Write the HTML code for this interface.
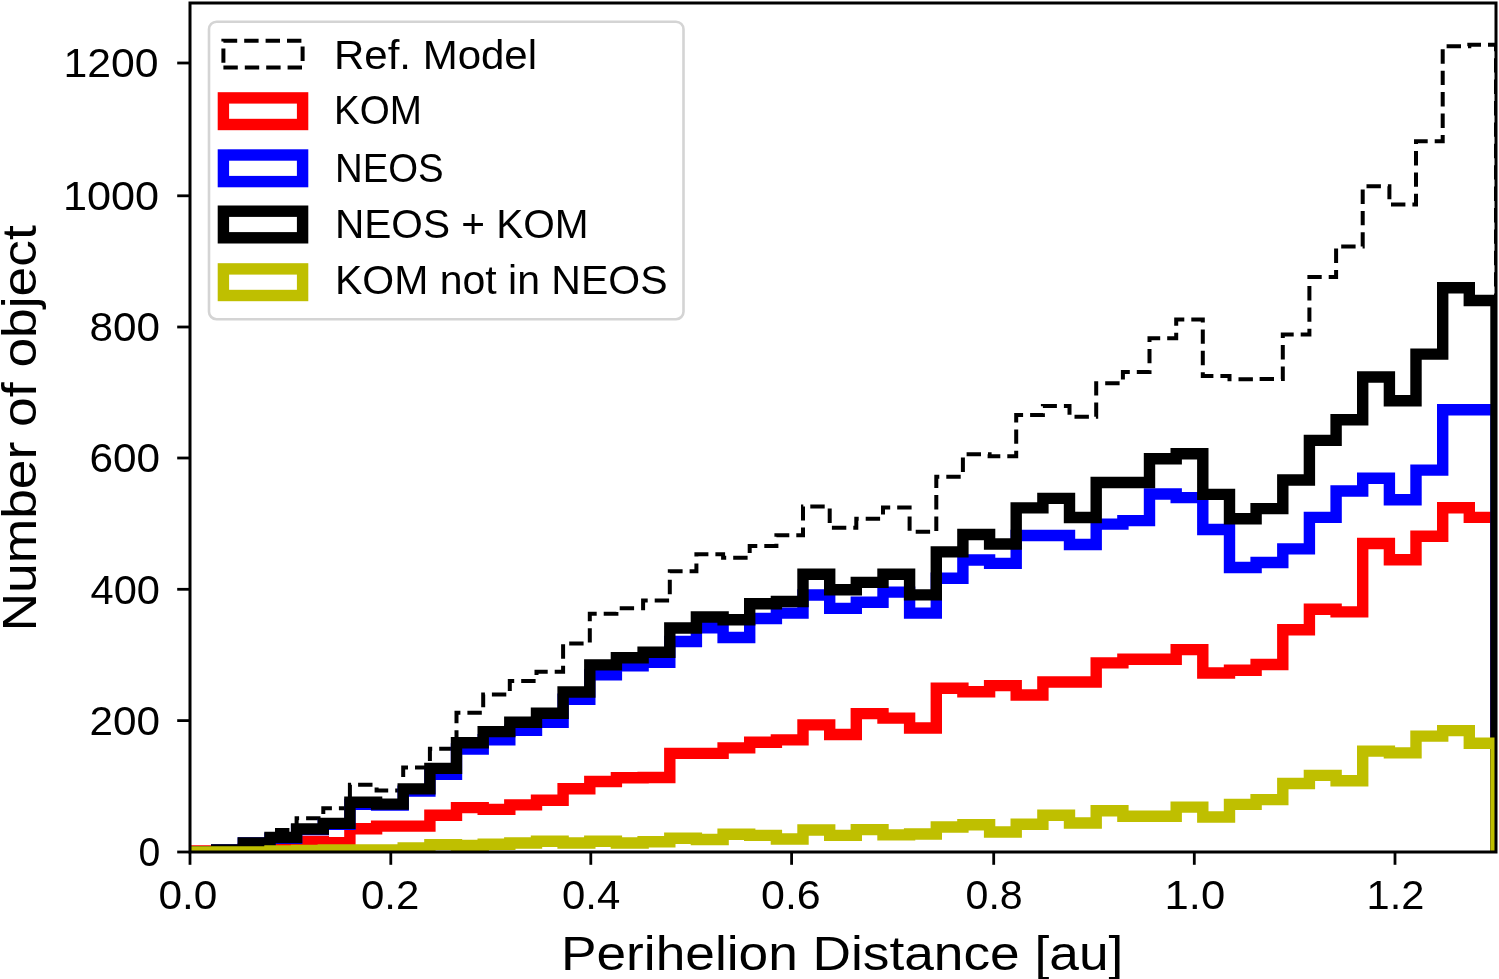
<!DOCTYPE html>
<html><head><meta charset="utf-8"><title>Perihelion distance histogram</title><style>html,body{margin:0;padding:0;background:#fff;overflow:hidden}svg{display:block;will-change:transform}text{font-family:"Liberation Sans",sans-serif;fill:#000}</style></head><body>
<svg width="1499" height="979" viewBox="0 0 1499 979">
<defs><clipPath id="ax"><rect x="190" y="3" width="1306" height="849"/></clipPath></defs>
<rect x="0" y="0" width="1499" height="979" fill="#fff"/>
<g clip-path="url(#ax)" fill="none" stroke-linejoin="miter" stroke-miterlimit="10" stroke-linecap="butt">
<path d="M190.0 852.0 L190.0 851.0 L216.7 851.0 L216.7 848.0 L243.3 848.0 L243.3 843.0 L270.0 843.0 L270.0 830.0 L296.6 830.0 L296.6 818.3 L323.3 818.3 L323.3 808.3 L349.9 808.3 L349.9 784.7 L376.6 784.7 L376.6 790.4 L403.2 790.4 L403.2 767.4 L429.9 767.4 L429.9 748.8 L456.5 748.8 L456.5 712.8 L483.2 712.8 L483.2 694.5 L509.8 694.5 L509.8 681.0 L536.5 681.0 L536.5 671.7 L563.1 671.7 L563.1 643.4 L589.8 643.4 L589.8 613.7 L616.4 613.7 L616.4 608.3 L643.1 608.3 L643.1 600.5 L669.8 600.5 L669.8 571.2 L696.4 571.2 L696.4 554.2 L723.1 554.2 L723.1 557.8 L749.7 557.8 L749.7 546.1 L776.4 546.1 L776.4 535.3 L803.0 535.3 L803.0 506.5 L829.7 506.5 L829.7 527.7 L856.3 527.7 L856.3 518.7 L883.0 518.7 L883.0 507.4 L909.6 507.4 L909.6 531.7 L936.3 531.7 L936.3 476.7 L962.9 476.7 L962.9 454.2 L989.6 454.2 L989.6 456.3 L1016.2 456.3 L1016.2 414.9 L1042.9 414.9 L1042.9 405.9 L1069.5 405.9 L1069.5 416.7 L1096.2 416.7 L1096.2 383.2 L1122.9 383.2 L1122.9 372.0 L1149.5 372.0 L1149.5 338.2 L1176.2 338.2 L1176.2 319.5 L1202.8 319.5 L1202.8 376.0 L1229.5 376.0 L1229.5 379.3 L1256.1 379.3 L1256.1 379.0 L1282.8 379.0 L1282.8 334.5 L1309.4 334.5 L1309.4 276.9 L1336.1 276.9 L1336.1 246.6 L1362.7 246.6 L1362.7 186.3 L1389.4 186.3 L1389.4 204.6 L1416.0 204.6 L1416.0 141.3 L1442.7 141.3 L1442.7 46.2 L1469.3 46.2 L1469.3 44.8 L1496.0 44.8 L1496.0 852.0" stroke="#000" stroke-width="4" stroke-dasharray="14.4 7.0"/>
<path d="M190.0 852.0 L190.0 851.0 L243.3 851.0 L243.3 849.0 L270.0 849.0 L270.0 847.0 L296.6 847.0 L296.6 841.4 L323.3 841.4 L323.3 842.7 L349.9 842.7 L349.9 828.8 L376.6 828.8 L376.6 826.1 L429.9 826.1 L429.9 815.2 L456.5 815.2 L456.5 807.6 L483.2 807.6 L483.2 809.4 L509.8 809.4 L509.8 804.9 L536.5 804.9 L536.5 800.3 L563.1 800.3 L563.1 788.7 L589.8 788.7 L589.8 781.5 L616.4 781.5 L616.4 777.8 L643.1 777.8 L643.1 777.5 L669.8 777.5 L669.8 753.4 L723.1 753.4 L723.1 747.9 L749.7 747.9 L749.7 742.2 L776.4 742.2 L776.4 739.9 L803.0 739.9 L803.0 724.9 L829.7 724.9 L829.7 734.5 L856.3 734.5 L856.3 713.6 L883.0 713.6 L883.0 718.1 L909.6 718.1 L909.6 728.0 L936.3 728.0 L936.3 688.3 L962.9 688.3 L962.9 691.7 L989.6 691.7 L989.6 685.6 L1016.2 685.6 L1016.2 695.0 L1042.9 695.0 L1042.9 682.0 L1096.2 682.0 L1096.2 662.9 L1122.9 662.9 L1122.9 659.3 L1176.2 659.3 L1176.2 649.6 L1202.8 649.6 L1202.8 673.0 L1229.5 673.0 L1229.5 670.3 L1256.1 670.3 L1256.1 664.5 L1282.8 664.5 L1282.8 629.7 L1309.4 629.7 L1309.4 609.3 L1336.1 609.3 L1336.1 611.9 L1362.7 611.9 L1362.7 543.5 L1389.4 543.5 L1389.4 559.7 L1416.0 559.7 L1416.0 536.3 L1442.7 536.3 L1442.7 507.7 L1469.3 507.7 L1469.3 517.4 L1496.0 517.4 L1496.0 852.0" stroke="#ff0000" stroke-width="11.4"/>
<path d="M190.0 852.0 L216.7 852.0 L216.7 850.0 L243.3 850.0 L243.3 843.0 L270.0 843.0 L270.0 838.4 L296.6 838.4 L296.6 829.6 L323.3 829.6 L323.3 824.4 L349.9 824.4 L349.9 804.4 L376.6 804.4 L376.6 805.1 L403.2 805.1 L403.2 791.1 L429.9 791.1 L429.9 774.4 L456.5 774.4 L456.5 749.0 L483.2 749.0 L483.2 739.8 L509.8 739.8 L509.8 730.2 L536.5 730.2 L536.5 722.2 L563.1 722.2 L563.1 699.3 L589.8 699.3 L589.8 674.8 L616.4 674.8 L616.4 665.9 L643.1 665.9 L643.1 662.2 L669.8 662.2 L669.8 641.5 L696.4 641.5 L696.4 627.7 L723.1 627.7 L723.1 637.5 L749.7 637.5 L749.7 618.5 L776.4 618.5 L776.4 613.1 L803.0 613.1 L803.0 595.0 L829.7 595.0 L829.7 608.4 L856.3 608.4 L856.3 602.3 L883.0 602.3 L883.0 592.1 L909.6 592.1 L909.6 613.1 L936.3 613.1 L936.3 578.2 L962.9 578.2 L962.9 560.0 L989.6 560.0 L989.6 563.4 L1016.2 563.4 L1016.2 535.5 L1069.5 535.5 L1069.5 544.5 L1096.2 544.5 L1096.2 524.1 L1122.9 524.1 L1122.9 520.6 L1149.5 520.6 L1149.5 494.0 L1176.2 494.0 L1176.2 497.6 L1202.8 497.6 L1202.8 529.5 L1229.5 529.5 L1229.5 567.5 L1256.1 567.5 L1256.1 562.5 L1282.8 562.5 L1282.8 548.9 L1309.4 548.9 L1309.4 517.4 L1336.1 517.4 L1336.1 491.0 L1362.7 491.0 L1362.7 478.2 L1389.4 478.2 L1389.4 499.8 L1416.0 499.8 L1416.0 470.1 L1442.7 470.1 L1442.7 409.7 L1496.0 409.7 L1496.0 852.0" stroke="#0000ff" stroke-width="11.4"/>
<path d="M190.0 852.0 L216.7 852.0 L216.7 849.9 L243.3 849.9 L243.3 842.9 L270.0 842.9 L270.0 837.5 L296.6 837.5 L296.6 829.0 L323.3 829.0 L323.3 823.4 L349.9 823.4 L349.9 802.2 L376.6 802.2 L376.6 804.1 L403.2 804.1 L403.2 788.9 L429.9 788.9 L429.9 768.4 L456.5 768.4 L456.5 742.8 L483.2 742.8 L483.2 731.6 L509.8 731.6 L509.8 722.2 L536.5 722.2 L536.5 713.3 L563.1 713.3 L563.1 692.0 L589.8 692.0 L589.8 664.9 L616.4 664.9 L616.4 657.7 L643.1 657.7 L643.1 652.3 L669.8 652.3 L669.8 628.0 L696.4 628.0 L696.4 617.0 L723.1 617.0 L723.1 619.7 L749.7 619.7 L749.7 603.7 L776.4 603.7 L776.4 601.5 L803.0 601.5 L803.0 574.2 L829.7 574.2 L829.7 589.7 L856.3 589.7 L856.3 582.4 L883.0 582.4 L883.0 574.2 L909.6 574.2 L909.6 594.9 L936.3 594.9 L936.3 551.9 L962.9 551.9 L962.9 534.5 L989.6 534.5 L989.6 544.0 L1016.2 544.0 L1016.2 507.9 L1042.9 507.9 L1042.9 498.4 L1069.5 498.4 L1069.5 517.5 L1096.2 517.5 L1096.2 482.5 L1149.5 482.5 L1149.5 458.8 L1176.2 458.8 L1176.2 453.7 L1202.8 453.7 L1202.8 494.4 L1229.5 494.4 L1229.5 518.7 L1256.1 518.7 L1256.1 508.6 L1282.8 508.6 L1282.8 480.0 L1309.4 480.0 L1309.4 440.4 L1336.1 440.4 L1336.1 419.7 L1362.7 419.7 L1362.7 377.0 L1389.4 377.0 L1389.4 400.7 L1416.0 400.7 L1416.0 354.1 L1442.7 354.1 L1442.7 287.7 L1469.3 287.7 L1469.3 300.5 L1496.0 300.5 L1496.0 852.0" stroke="#000000" stroke-width="11.4"/>
<path d="M190.0 852.0 L270.0 852.0 L270.0 851.0 L296.6 851.0 L296.6 850.5 L323.3 850.5 L323.3 850.0 L403.2 850.0 L403.2 848.0 L429.9 848.0 L429.9 844.6 L456.5 844.6 L456.5 845.4 L483.2 845.4 L483.2 844.2 L509.8 844.2 L509.8 843.0 L536.5 843.0 L536.5 841.2 L563.1 841.2 L563.1 843.0 L589.8 843.0 L589.8 841.2 L616.4 841.2 L616.4 843.0 L643.1 843.0 L643.1 841.8 L669.8 841.8 L669.8 838.2 L696.4 838.2 L696.4 839.5 L723.1 839.5 L723.1 834.2 L749.7 834.2 L749.7 835.4 L776.4 835.4 L776.4 839.0 L803.0 839.0 L803.0 830.0 L829.7 830.0 L829.7 835.4 L856.3 835.4 L856.3 829.6 L883.0 829.6 L883.0 834.9 L909.6 834.9 L909.6 834.0 L936.3 834.0 L936.3 827.0 L962.9 827.0 L962.9 824.7 L989.6 824.7 L989.6 832.0 L1016.2 832.0 L1016.2 824.2 L1042.9 824.2 L1042.9 815.2 L1069.5 815.2 L1069.5 823.0 L1096.2 823.0 L1096.2 810.8 L1122.9 810.8 L1122.9 816.2 L1176.2 816.2 L1176.2 807.1 L1202.8 807.1 L1202.8 817.0 L1229.5 817.0 L1229.5 804.4 L1256.1 804.4 L1256.1 799.6 L1282.8 799.6 L1282.8 783.5 L1309.4 783.5 L1309.4 775.4 L1336.1 775.4 L1336.1 780.8 L1362.7 780.8 L1362.7 751.1 L1389.4 751.1 L1389.4 752.9 L1416.0 752.9 L1416.0 736.1 L1442.7 736.1 L1442.7 730.6 L1469.3 730.6 L1469.3 743.3 L1496.0 743.3 L1496.0 852.0" stroke="#bfbf00" stroke-width="11.4"/>
</g>
<g stroke="#000" stroke-width="3" fill="none" stroke-linecap="square">
<path d="M190 3 L1496 3 L1496 852 L190 852 Z" stroke-linejoin="miter"/>
</g>
<g stroke="#000" stroke-width="2.8">
<line x1="177.2" y1="852.0" x2="190" y2="852.0"/>
<line x1="177.2" y1="720.6" x2="190" y2="720.6"/>
<line x1="177.2" y1="589.3" x2="190" y2="589.3"/>
<line x1="177.2" y1="458.0" x2="190" y2="458.0"/>
<line x1="177.2" y1="327.0" x2="190" y2="327.0"/>
<line x1="177.2" y1="195.8" x2="190" y2="195.8"/>
<line x1="177.2" y1="63.0" x2="190" y2="63.0"/>
<line x1="190.0" y1="852" x2="190.0" y2="864.8"/>
<line x1="390.8" y1="852" x2="390.8" y2="864.8"/>
<line x1="590.8" y1="852" x2="590.8" y2="864.8"/>
<line x1="791.6" y1="852" x2="791.6" y2="864.8"/>
<line x1="993.7" y1="852" x2="993.7" y2="864.8"/>
<line x1="1194.3" y1="852" x2="1194.3" y2="864.8"/>
<line x1="1395.0" y1="852" x2="1395.0" y2="864.8"/>
</g>
<text x="63.50" y="77.30" font-size="40.5" textLength="95.14" lengthAdjust="spacingAndGlyphs">1200</text>
<text x="63.00" y="210.10" font-size="40.5" textLength="96.15" lengthAdjust="spacingAndGlyphs">1000</text>
<text x="89.50" y="341.30" font-size="40.5" textLength="70.51" lengthAdjust="spacingAndGlyphs">800</text>
<text x="89.50" y="472.30" font-size="40.5" textLength="70.54" lengthAdjust="spacingAndGlyphs">600</text>
<text x="90.50" y="603.60" font-size="40.5" textLength="69.44" lengthAdjust="spacingAndGlyphs">400</text>
<text x="89.50" y="735.10" font-size="40.5" textLength="70.54" lengthAdjust="spacingAndGlyphs">200</text>
<text x="138.50" y="866.40" font-size="40.5" textLength="21.80" lengthAdjust="spacingAndGlyphs">0</text>
<text x="158.50" y="909.40" font-size="40.5" textLength="58.87" lengthAdjust="spacingAndGlyphs">0.0</text>
<text x="361.00" y="909.40" font-size="40.5" textLength="58.33" lengthAdjust="spacingAndGlyphs">0.2</text>
<text x="562.00" y="909.40" font-size="40.5" textLength="58.25" lengthAdjust="spacingAndGlyphs">0.4</text>
<text x="761.00" y="909.40" font-size="40.5" textLength="59.71" lengthAdjust="spacingAndGlyphs">0.6</text>
<text x="965.50" y="909.40" font-size="40.5" textLength="57.19" lengthAdjust="spacingAndGlyphs">0.8</text>
<text x="1164.50" y="909.40" font-size="40.5" textLength="60.66" lengthAdjust="spacingAndGlyphs">1.0</text>
<text x="1366.50" y="909.40" font-size="40.5" textLength="57.84" lengthAdjust="spacingAndGlyphs">1.2</text>
<text x="561.00" y="969.60" font-size="48" textLength="562.31" lengthAdjust="spacingAndGlyphs">Perihelion Distance [au]</text>
<text transform="translate(36.00 631.50) rotate(-90)" font-size="48" textLength="406.31" lengthAdjust="spacingAndGlyphs">Number of object</text>
<rect x="209" y="21.7" width="474.5" height="297.5" rx="7.5" ry="7.5" fill="#fff" fill-opacity="0.8" stroke="#d4d4d4" stroke-width="2.6"/>
<path d="M223.4 67.4 L302.6 67.4 L302.6 40.8 L223.4 40.8 Z" fill="none" stroke="#000" stroke-width="4" stroke-dasharray="14.4 7.0" stroke-linejoin="miter"/>
<rect x="223.4" y="97.9" width="79.2" height="26.6" fill="none" stroke="#ff0000" stroke-width="11.4" stroke-linejoin="miter"/>
<rect x="223.4" y="155.0" width="79.2" height="26.6" fill="none" stroke="#0000ff" stroke-width="11.4" stroke-linejoin="miter"/>
<rect x="223.4" y="211.2" width="79.2" height="26.6" fill="none" stroke="#000000" stroke-width="11.4" stroke-linejoin="miter"/>
<rect x="223.4" y="268.9" width="79.2" height="26.6" fill="none" stroke="#bfbf00" stroke-width="11.4" stroke-linejoin="miter"/>
<text x="334.00" y="68.50" font-size="40.5" textLength="203.06" lengthAdjust="spacingAndGlyphs">Ref. Model</text>
<text x="334.00" y="124.40" font-size="40.5" textLength="87.98" lengthAdjust="spacingAndGlyphs">KOM</text>
<text x="335.00" y="182.00" font-size="40.5" textLength="108.69" lengthAdjust="spacingAndGlyphs">NEOS</text>
<text x="335.00" y="238.00" font-size="40.5" textLength="253.62" lengthAdjust="spacingAndGlyphs">NEOS + KOM</text>
<text x="335.00" y="294.00" font-size="40.5" textLength="332.46" lengthAdjust="spacingAndGlyphs">KOM not in NEOS</text>
</svg></body></html>
